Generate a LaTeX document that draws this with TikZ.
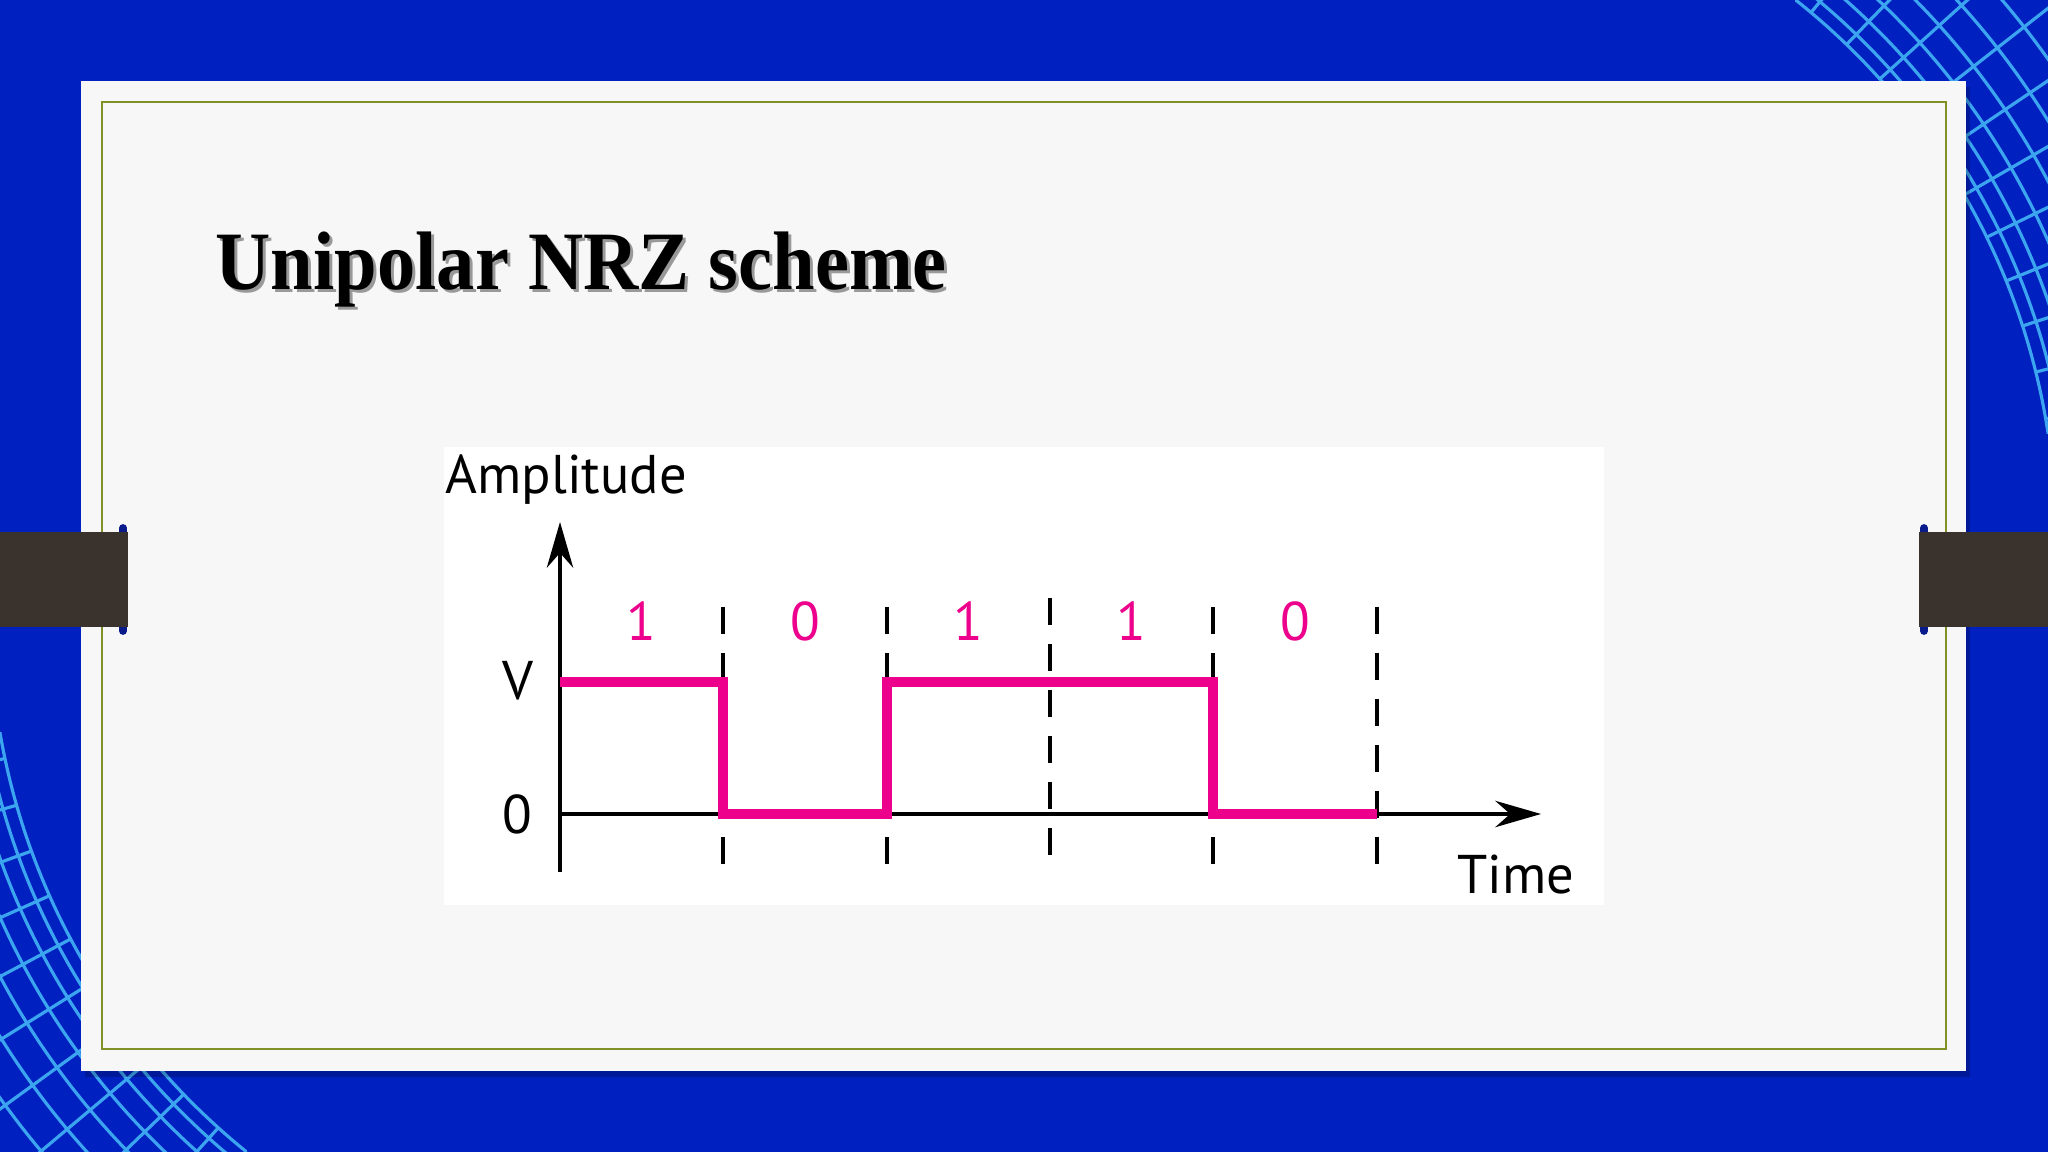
\documentclass[tikz,border=0pt]{standalone}
\usepackage{fontspec}
\setmainfont{Liberation Serif}
\newfontfamily\figfont{PT Sans}
\usetikzlibrary{arrows.meta, positioning, calc}
\definecolor{slideblue}{RGB}{0, 32, 192}
\definecolor{meshblue}{RGB}{60, 165, 240}
\definecolor{cardwhite}{RGB}{247, 247, 247}
\definecolor{frameolive}{RGB}{128, 145, 40}
\definecolor{barbrown}{RGB}{58, 50, 44}
\definecolor{nubnavy}{RGB}{10, 28, 140}
\definecolor{sigpink}{RGB}{236, 0, 140}
\tikzset{
    axis/.style={line width=1pt, -{Stealth[length=13pt, width=7.5pt]}},
    sig/.style={line width=2.6pt, color=sigpink, line join=miter},
    bitline/.style={line width=0.9pt, dash pattern=on 7.7pt off 5.4pt},
    lbl/.style={font=\figfont\fontsize{15.5pt}{18pt}\selectfont,
                inner sep=0pt, anchor=base},
    bitlbl/.style={lbl, text=sigpink},
    mesh/.style={color=meshblue, line width=0.9pt},
    slidetitle/.style={font=\bfseries\fontsize{23.6pt}{28pt}\selectfont,
                       inner sep=0pt, anchor=base west,
                       transform shape, xscale=0.922},
}
\begin{document}
\begin{tikzpicture}[x=0.01cm, y=-0.01cm]
    \useasboundingbox (0,0) rectangle (2048,1152);
    \fill[slideblue] (0,0) rectangle (2048,1152);

    % Corner meshes
    \begin{scope}
        \clip (1795,0) rectangle (2048,434);
        \coordinate (mtr) at (1370,538);
        \foreach \r in {686,700,718,740,766,796,830,868}
            \draw[mesh] (mtr) circle[radius=\r];
        \foreach \a in {-62,-58,...,14}
            \draw[mesh] ($(mtr)+(\a:686)$) -- ($(mtr)+(\a:920)$);
    \end{scope}
    \begin{scope}
        \clip (0,732) rectangle (247,1152);
        \coordinate (mbl) at (680,615);
        \foreach \r in {690,704,722,744,770,800,834,872}
            \draw[mesh] (mbl) circle[radius=\r];
        \foreach \a in {112,116,...,184}
            \draw[mesh] ($(mbl)+(\a:690)$) -- ($(mbl)+(\a:920)$);
    \end{scope}

    % Card
    \fill[black, opacity=0.2] (85,87) rectangle (1970,1077);
    \fill[cardwhite] (81,81) rectangle (1966,1071);
    \draw[frameolive, line width=0.6pt] (102,102) rectangle (1946,1049);

    % Side bars
    \draw[nubnavy, line width=2.2pt, line cap=round] (123,528) -- (123,631);
    \fill[barbrown] (0,532) rectangle (128,627);
    \draw[nubnavy, line width=2.2pt, line cap=round] (1924,528) -- (1924,631);
    \fill[barbrown] (1919,532) rectangle (2048,627);

    % Title
    \node[slidetitle, text=black!40] at (218,293) {Unipolar NRZ scheme};
    \node[slidetitle] (title) at (215,290) {Unipolar NRZ scheme};

    % Figure
    \fill[white] (444,447) rectangle (1604,905);
    \coordinate (O) at (560,814);
    \coordinate (ytop) at (560,522);
    \coordinate (ybot) at (560,872);
    \coordinate (xtip) at (1541,814);

    % Bit boundaries
    \foreach \x/\t/\b in {723/607/871, 887/607/871, 1050/598/859,
                          1213/607/871, 1377/607/871}
        \draw[bitline] (\x,\t) -- (\x,\b);

    % Axes
    \draw[axis] (ybot) -- (ytop);
    \draw[axis] (O) -- (xtip);

    % Signal
    \draw[sig] (O |- 0,682) -- (723,682) -- (723,814) -- (887,814)
        -- (887,682) -- (1213,682) -- (1213,814) -- (1377,814);

    % Labels
    \foreach \x/\b [count=\i] in {641/1, 805/0, 968/1, 1131/1, 1295/0}
        \node[bitlbl] (bit\i) at (\x,640) {\b};
    \node[lbl] (vlbl) at (518,699) {V};
    \node[lbl] (zlbl) at (517,833) {0};
    \node[lbl, anchor=base west] (amp) at (445,494) {Amplitude};
    \node[lbl, anchor=base west] (time) at (1457,893) {Time};
\end{tikzpicture}
\end{document}
